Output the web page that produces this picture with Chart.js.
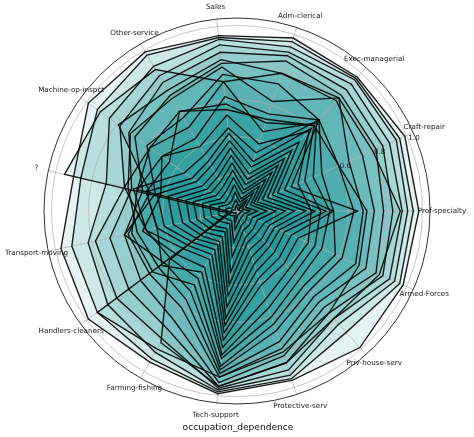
<!DOCTYPE html>
<html>
<head>
<meta charset="utf-8">
<script src="https://cdn.jsdelivr.net/npm/chart.js@4"></script>
<style>
html,body{margin:0;padding:0;background:#fff;}
canvas{display:block;}
</style>
</head>
<body>
<canvas id="c" width="474" height="437"></canvas>
<script>
// Categories, clockwise starting near the top
const categories = ["Sales","Adm-clerical","Exec-managerial","Craft-repair","Prof-specialty","Armed-Forces","Priv-house-serv","Protective-serv","Tech-support","Farming-fishing","Handlers-cleaners","Transport-moving","?","Machine-op-inspct","Other-service"];
const radialTicks = [0.2, 0.4, 0.6, 0.8, 1.0];
const radialTickLabels = ["", "", "0.6", "0.8", "1.0"];
const axisTitle = "occupation_dependence";

// Series values (order follows categories)
const layer01 = [0.95,0.98,0.97,0.99,0.98,0.98,0.99,0.96,0.99,0.94,0.99,0.97,0.90,0.99,0.99];
const layer02 = [0.94,0.96,0.96,0.96,0.95,0.96,0.88,0.95,0.98,0.92,0.93,0.91,0.86,0.93,0.97];
const layer03 = [0.93,0.93,0.95,0.94,0.92,0.93,0.82,0.93,0.97,0.88,0.86,0.82,0.72,0.85,0.90];
const layer04 = [0.90,0.90,0.92,0.90,0.89,0.90,0.78,0.90,0.96,0.80,0.80,0.78,0.62,0.78,0.84];
const layer05 = [0.86,0.88,0.88,0.86,0.84,0.86,0.74,0.86,0.95,0.74,0.72,0.70,0.58,0.72,0.80];
const layer06 = [0.80,0.85,0.84,0.82,0.79,0.82,0.70,0.82,0.93,0.68,0.64,0.62,0.52,0.68,0.72];
const layer07 = [0.70,0.78,0.82,0.80,0.88,0.84,0.78,0.86,0.95,0.82,0.45,0.05,0.95,0.91,0.88];
const layer08 = [0.55,0.52,0.62,0.60,0.70,0.72,0.74,0.80,0.90,0.86,0.93,0.03,0.55,0.58,0.62];
const layer09 = [0.82,0.78,0.80,0.74,0.74,0.76,0.66,0.78,0.90,0.60,0.58,0.60,0.48,0.79,0.75];
const layer10 = [0.78,0.62,0.82,0.66,0.68,0.70,0.62,0.74,0.88,0.55,0.52,0.55,0.60,0.71,0.70];
const layer11 = [0.74,0.72,0.66,0.60,0.63,0.62,0.58,0.68,0.86,0.50,0.48,0.62,0.45,0.60,0.58];
const layer12 = [0.62,0.55,0.66,0.50,0.52,0.58,0.54,0.64,0.84,0.46,0.56,0.58,0.55,0.50,0.45];
const layer13 = [0.70,0.45,0.64,0.45,0.50,0.50,0.50,0.60,0.80,0.42,0.44,0.50,0.62,0.58,0.52];
const layer14 = [0.58,0.50,0.62,0.40,0.45,0.46,0.46,0.55,0.78,0.38,0.50,0.44,0.50,0.45,0.62];
const layer15 = [0.52,0.38,0.58,0.36,0.40,0.42,0.42,0.50,0.74,0.35,0.40,0.52,0.42,0.50,0.40];
const layer16 = [0.45,0.33,0.66,0.32,0.65,0.36,0.38,0.42,0.70,0.30,0.35,0.50,0.57,0.35,0.35];
const layer17 = [0.42,0.28,0.60,0.28,0.52,0.32,0.34,0.38,0.66,0.27,0.32,0.44,0.50,0.30,0.31];
const layer18 = [0.38,0.25,0.50,0.24,0.48,0.28,0.30,0.34,0.62,0.24,0.29,0.40,0.44,0.27,0.28];
const layer19 = [0.34,0.21,0.44,0.21,0.42,0.25,0.26,0.30,0.58,0.21,0.26,0.35,0.38,0.23,0.24];
const layer20 = [0.30,0.18,0.38,0.18,0.37,0.22,0.23,0.26,0.52,0.19,0.23,0.30,0.33,0.20,0.21];
const layer21 = [0.26,0.15,0.33,0.15,0.31,0.19,0.20,0.22,0.46,0.16,0.20,0.26,0.28,0.17,0.18];
const layer22 = [0.22,0.12,0.28,0.12,0.26,0.16,0.16,0.18,0.40,0.13,0.17,0.22,0.24,0.14,0.15];
const layer23 = [0.18,0.10,0.23,0.10,0.21,0.12,0.13,0.15,0.33,0.11,0.14,0.18,0.19,0.11,0.12];
const layer24 = [0.14,0.07,0.18,0.08,0.16,0.09,0.10,0.11,0.25,0.08,0.10,0.14,0.15,0.08,0.09];
const layer25 = [0.10,0.05,0.13,0.05,0.11,0.06,0.07,0.08,0.17,0.06,0.07,0.10,0.10,0.06,0.06];
const layer26 = [0.06,0.03,0.08,0.03,0.07,0.04,0.04,0.05,0.10,0.03,0.04,0.06,0.06,0.03,0.04];
const layer27 = [0.03,0.01,0.04,0.01,0.03,0.02,0.02,0.02,0.05,0.01,0.02,0.03,0.03,0.01,0.02];

const layers = [layer01,layer02,layer03,layer04,layer05,layer06,layer07,layer08,layer09,layer10,
  layer11,layer12,layer13,layer14,layer15,layer16,layer17,layer18,layer19,layer20,
  layer21,layer22,layer23,layer24,layer25,layer26,layer27];

const FONT = "'DejaVu Sans', sans-serif";

const deco = {
  id: 'deco',
  beforeDatasetsDraw(chart) {
    const s = chart.scales.r, ctx = chart.ctx;
    const cx = s.xCenter, cy = s.yCenter;
    ctx.save();
    ctx.strokeStyle = 'rgba(176,176,176,0.9)';
    ctx.lineWidth = 0.8;
    radialTicks.forEach(v => {
      const d = s.getDistanceFromCenterForValue(v);
      ctx.beginPath(); ctx.arc(cx, cy, d, 0, Math.PI * 2); ctx.stroke();
    });
    for (let i = 0; i < categories.length; i++) {
      const p = s.getPointPosition(i, s.drawingArea);
      ctx.beginPath(); ctx.moveTo(cx, cy); ctx.lineTo(p.x, p.y); ctx.stroke();
    }
    ctx.strokeStyle = '#333';
    ctx.lineWidth = 1;
    ctx.beginPath(); ctx.arc(cx, cy, s.drawingArea, 0, Math.PI * 2); ctx.stroke();
    const a = -22.5 * Math.PI / 180;
    ctx.fillStyle = '#262626';
    ctx.font = '7.2px ' + FONT;
    ctx.textAlign = 'center'; ctx.textBaseline = 'middle';
    radialTicks.forEach((v, i) => {
      const t = radialTickLabels[i];
      if (!t) return;
      const d = s.getDistanceFromCenterForValue(v) + 6;
      ctx.fillText(t, cx + Math.cos(a) * d, cy + Math.sin(a) * d);
    });
    ctx.restore();
  },
  afterDraw(chart) {
    const s = chart.scales.r, ctx = chart.ctx;
    ctx.save();
    ctx.fillStyle = '#1a1a1a';
    ctx.font = '7.2px ' + FONT;
    ctx.textAlign = 'center'; ctx.textBaseline = 'middle';
    categories.forEach((c, i) => {
      const p = s.getPointPosition(i, s.drawingArea + 12);
      ctx.fillText(c, p.x, p.y);
    });
    ctx.fillStyle = '#111';
    ctx.font = '9.1px ' + FONT;
    ctx.fillText(axisTitle, s.xCenter + 1, 428);
    ctx.restore();
  }
};

new Chart(document.getElementById('c'), {
  type: 'radar',
  data: {
    labels: categories,
    datasets: layers.map((vals, i) => ({
      label: 'layer' + (i + 1),
      data: vals,
      fill: true,
      backgroundColor: 'rgba(0,139,139,0.1)',
      borderColor: 'rgba(0,0,0,0.88)',
      borderWidth: 1.4,
      pointRadius: 0,
      pointHoverRadius: 0,
      tension: 0
    }))
  },
  options: {
    responsive: false,
    animation: false,
    events: [],
    layout: { padding: { top: 18, bottom: 33, left: 0, right: 0 } },
    plugins: {
      legend: { display: false },
      tooltip: { enabled: false },
      filler: { drawTime: 'beforeDatasetsDraw' }
    },
    scales: {
      r: {
        min: 0,
        max: 1.04,
        startAngle: -6,
        ticks: { display: false, stepSize: 0.2 },
        grid: { display: false },
        angleLines: { display: false },
        pointLabels: { display: false }
      }
    }
  },
  plugins: [deco]
});
</script>
</body>
</html>
